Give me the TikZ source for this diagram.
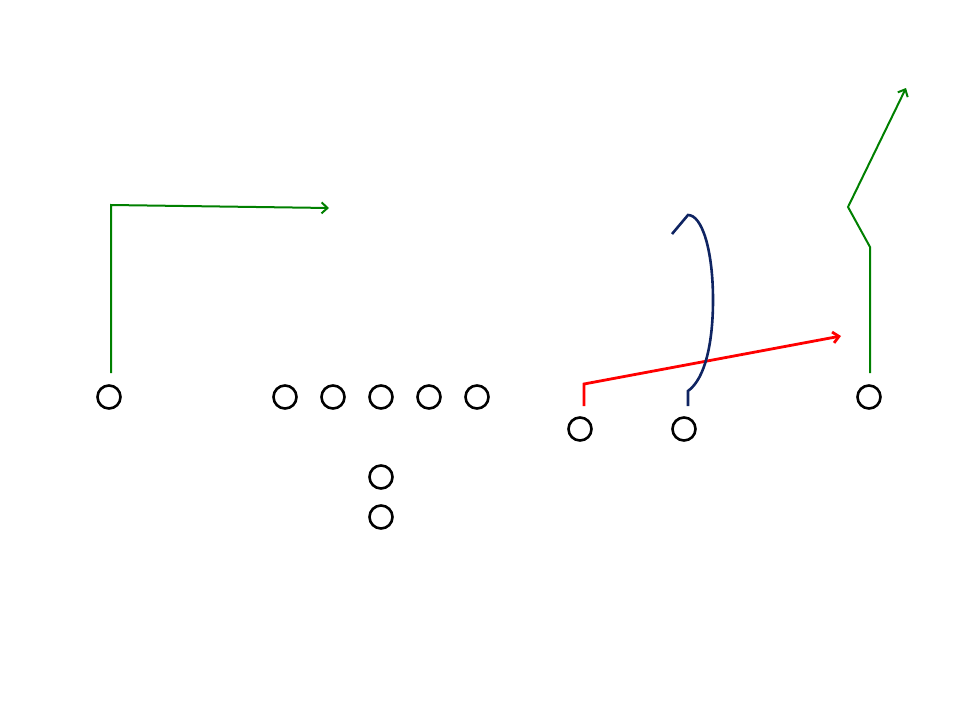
\documentclass[tikz,border=0pt]{standalone}
\usetikzlibrary{arrows.meta}
\begin{document}
\begin{tikzpicture}[x=1pt,y=-1pt,
  player/.style={circle,draw=black,line width=2.6pt,minimum size=23pt,inner sep=0pt},
  grn/.style={draw={rgb,255:red,0;green,128;blue,0},line width=2pt,line join=miter},
  redr/.style={draw={rgb,255:red,255;green,0;blue,0},line width=2.8pt},
  blu/.style={draw={rgb,255:red,15;green,36;blue,98},line width=2.6pt},
  tip/.style={-{Straight Barb[length=6pt,width=11pt]}}]
\useasboundingbox (0,0) rectangle (960,720);
\node[player] (wl) at (109,397) {};
\node[player] (l1) at (285,397) {};
\node[player] (l2) at (333,397) {};
\node[player] (c) at (381,397) {};
\node[player] (l4) at (429,397) {};
\node[player] (l5) at (477,397) {};
\node[player] (te) at (580,429) {};
\node[player] (wb) at (684,429) {};
\node[player] (wr) at (869,397) {};
\node[player] (qb) at (381,477) {};
\node[player] (rb) at (381,517) {};
\coordinate (a1) at (111,205);
\coordinate (a2) at (329,208);
\coordinate (b1) at (870,247);
\coordinate (b2) at (848,207);
\coordinate (b3) at (906,88);
\coordinate (r1) at (584,384);
\coordinate (r2) at (841,336);
\coordinate (u1) at (688,391);
\coordinate (u2) at (672,234);
\draw[grn,tip] ([yshift=11pt]wl.north -| a1) -- (a1) -- (a2);
\draw[grn,tip] ([yshift=11pt]wr.north -| b1) -- (b1) -- (b2) -- (b3);
\draw[redr,tip] ([yshift=10pt]te.north -| r1) -- (r1) -- (r2);
\draw[blu] ([yshift=10pt]wb.north -| u1) -- (u1) .. controls (706,378) and (713,340) .. (713,300) .. controls (713,250) and (702,215) .. (688,215) -- (u2);
\end{tikzpicture}
\end{document}
